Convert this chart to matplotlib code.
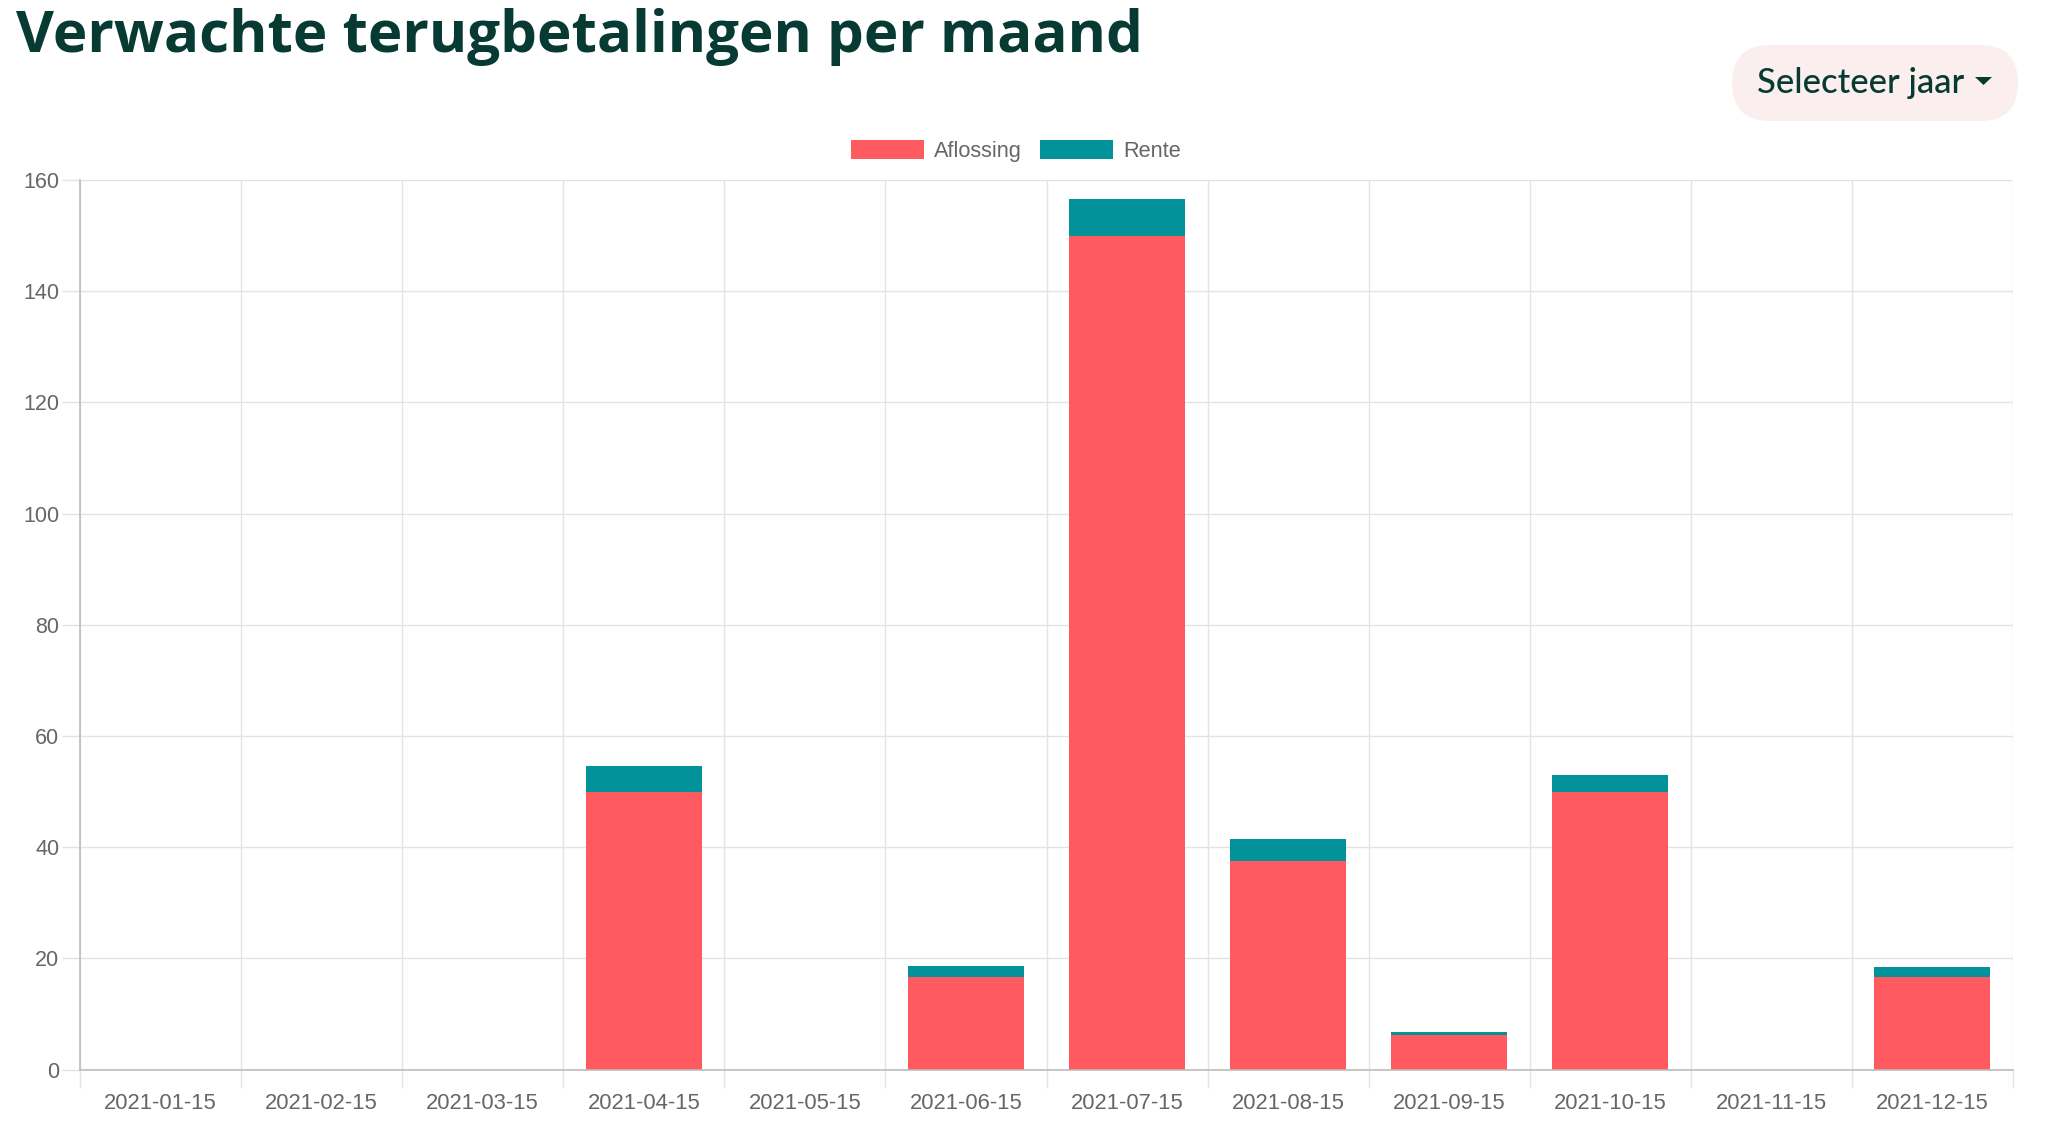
import matplotlib
matplotlib.use("Agg")
import matplotlib.pyplot as plt
from matplotlib.patches import FancyBboxPatch, Polygon
from matplotlib.transforms import IdentityTransform
import numpy as np

months = ["2021-01-15", "2021-02-15", "2021-03-15", "2021-04-15", "2021-05-15", "2021-06-15",
          "2021-07-15", "2021-08-15", "2021-09-15", "2021-10-15", "2021-11-15", "2021-12-15"]
aflossing = [0, 0, 0, 50, 0, 16.67, 150, 37.5, 6.2, 50, 0, 16.67]
rente = [0, 0, 0, 4.6, 0, 2.0, 6.6, 3.9, 0.6, 3.0, 0, 1.75]
yticks = [0, 20, 40, 60, 80, 100, 120, 140, 160]

RED = "#FF5A5F"
TEAL = "#01929A"
GRID = "#e3e3e3"
AXIS = "#bcbcbc"
TXT = "#666666"
DARK = "#063A33"

W, H = 2048, 1138
fig = plt.figure(figsize=(W / 100, H / 100), dpi=100)
fig.patch.set_facecolor("white")

ax = fig.add_axes([80 / W, 1 - 1069.5 / H, (2013 - 80) / W, (1069.5 - 180) / H])
x = np.arange(len(months))
ax.bar(x, aflossing, width=0.72, color=RED, label="Aflossing", zorder=3)
ax.bar(x, rente, width=0.72, bottom=aflossing, color=TEAL, label="Rente", zorder=3)

ax.set_xlim(-0.5, len(months) - 0.5)
ax.set_ylim(0, 160)
ax.set_yticks(yticks)
ax.set_yticklabels([str(v) for v in yticks])
ax.set_xticks(x)
ax.set_xticklabels(months)
ax.set_xticks(np.arange(-0.5, len(months)), minor=True)

ax.tick_params(axis="x", which="major", length=0, pad=17, labelsize=15.8, labelcolor=TXT)
ax.tick_params(axis="x", which="minor", length=13, width=1, color=GRID)
ax.tick_params(axis="y", which="major", length=13, width=1, color=GRID, pad=2,
               labelsize=15.5, labelcolor=TXT)
for lab in ax.get_xticklabels() + ax.get_yticklabels():
    lab.set_fontfamily("Liberation Sans")

ax.grid(True, axis="y", which="major", color=GRID, linewidth=1, zorder=0)
ax.grid(True, axis="x", which="minor", color=GRID, linewidth=1, zorder=0)
ax.grid(False, axis="x", which="major")
for s in ["top", "right"]:
    ax.spines[s].set_visible(False)
for s in ["left", "bottom"]:
    ax.spines[s].set_color(AXIS)
    ax.spines[s].set_linewidth(1.2)
    ax.spines[s].set_zorder(4)

leg = fig.legend(loc="center", bbox_to_anchor=(1016 / W, 1 - 151 / H), ncol=2, frameon=False,
                 handlelength=3.35, handleheight=0.95, handletextpad=0.47, columnspacing=0.84,
                 prop={"family": "Liberation Sans", "size": 15.7})
for t in leg.get_texts():
    t.set_color(TXT)

# Title
fig.text(16 / W, 1 - 52 / H, "Verwachte terugbetalingen per maand", fontsize=42,
         fontweight="bold", family="Open Sans", color=DARK, ha="left", va="baseline")

# Button
btn = FancyBboxPatch((1732, H - 121), 286, 76, boxstyle="round,pad=0,rounding_size=38",
                     transform=IdentityTransform(), facecolor="#FAEFEE", edgecolor="none")
fig.patches.append(btn)
fig.text(1757 / W, 1 - 93 / H, "Selecteer jaar", fontsize=25, family="Lato", fontweight="medium",
         color=DARK, ha="left", va="baseline")
caret = Polygon([(1975, H - 77), (1992, H - 77), (1983.5, H - 85)], closed=True,
                transform=IdentityTransform(), facecolor=DARK, edgecolor="none")
fig.patches.append(caret)

fig.savefig("out.png", dpi=100, facecolor="white")
